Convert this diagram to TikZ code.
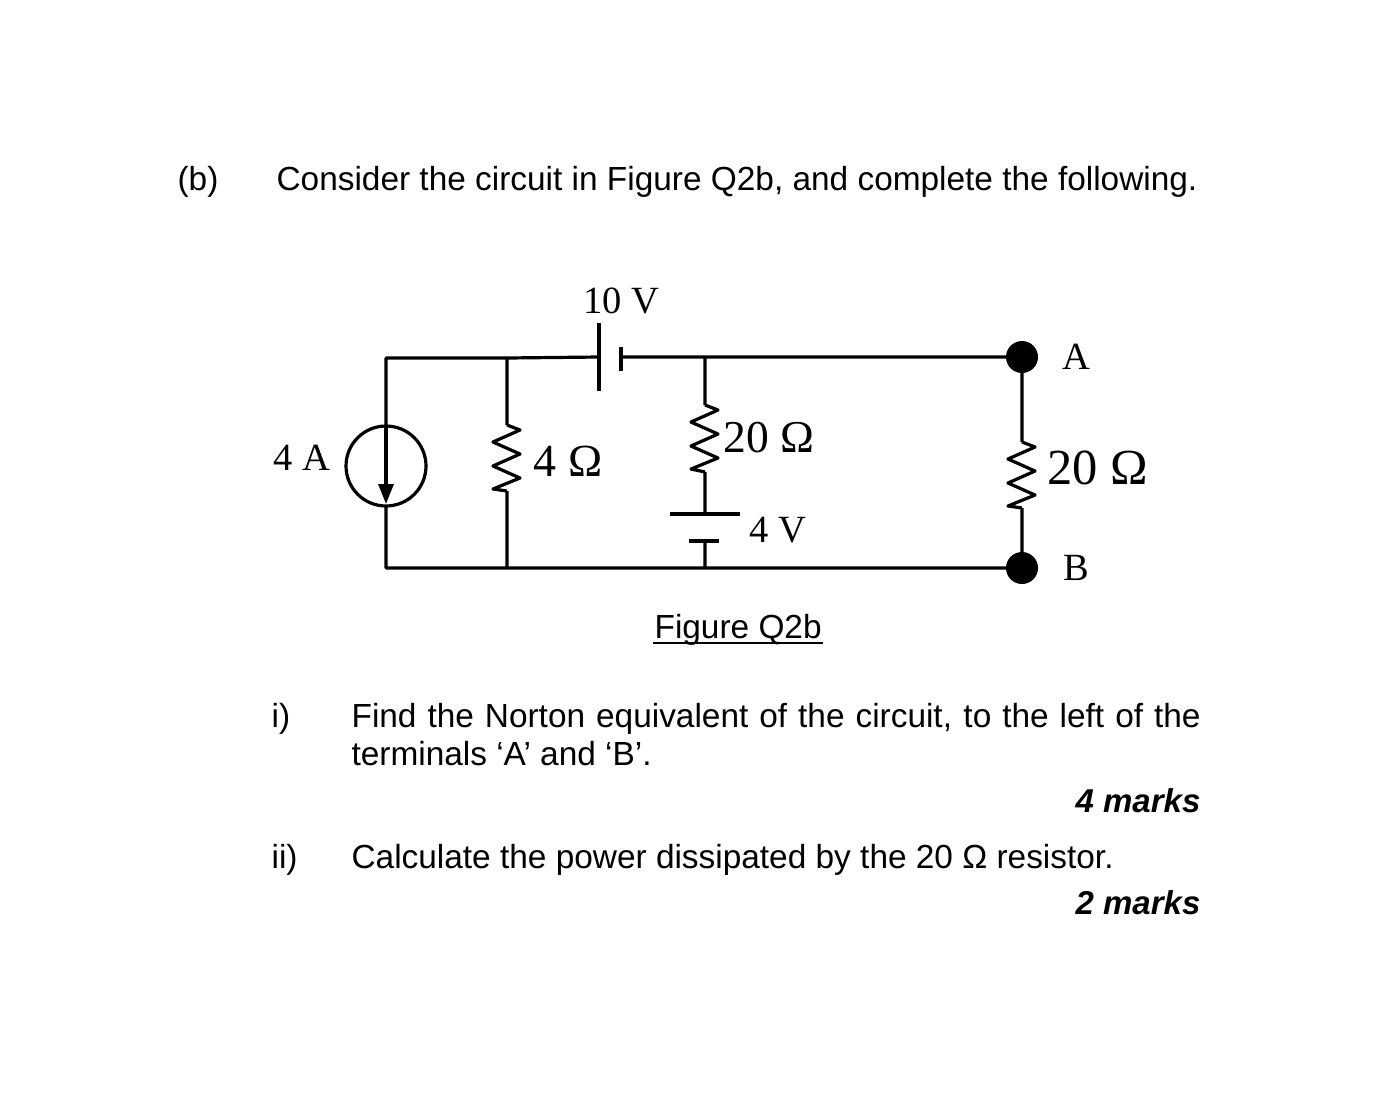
\documentclass[tikz,border=0pt]{standalone}
\usepackage{fontspec}
\setmainfont{Liberation Sans}
\newfontfamily\circuitfont{Liberation Serif}
\usetikzlibrary{arrows.meta}

\tikzset{
  body/.style={inner sep=0pt,anchor=base west,font=\fontsize{33.4}{38}\selectfont},
  marks/.style={inner sep=0pt,anchor=base east,font=\fontsize{33}{38}\selectfont\bfseries\itshape},
  lab/.style={inner sep=0pt,anchor=base west,font=\fontsize{38.5}{40}\selectfont\circuitfont},
  biglab/.style={inner sep=0pt,anchor=base west,font=\fontsize{#1}{40}\selectfont\circuitfont},
  terminal/.style={circle,fill=black,inner sep=0pt,outer sep=0pt,minimum size=32pt},
  isource/.style={circle,draw,inner sep=0pt,outer sep=0pt,minimum size=80pt},
  resistor/.style={to path={-- ++(13,5) -- ++(-27,12) -- ++(27,12) -- ++(-27,12)
                            -- ++(27,12) -- ++(-27,11) -- (\tikztotarget)}}
}

\begin{document}
\begin{tikzpicture}[x=1pt,y=-1pt,line width=3.2pt,line join=round,
                    >={Stealth[length=20pt,width=15pt,inset=0pt]}]
  \useasboundingbox (0,0) rectangle (1374,1104);

  % heading
  \node[body] (part)    at (176,190) {(b)};
  \node[body] (intro)   at (275,190) {Consider the circuit in Figure Q2b, and complete the following.};

  % junctions
  \coordinate (TL)   at (386,358);
  \coordinate (BL)   at (386,568);
  \coordinate (T4)   at (507,358);
  \coordinate (B4)   at (507,568);
  \coordinate (T20)  at (705,357);
  \coordinate (B20)  at (705,568);
  \node[terminal] (A)  at (1022,357) {};
  \node[terminal] (B)  at (1022,568) {};
  \node[isource]  (Is) at (386,466) {};

  % resistor ends
  \coordinate (R4a)  at (507,425);
  \coordinate (R4b)  at (507,491);
  \coordinate (R20a) at (705,405);
  \coordinate (R20b) at (705,472);
  \coordinate (RLa)  at (1022,442);
  \coordinate (RLb)  at (1022,508);

  % battery plates
  \coordinate (V10l)  at (599,357);
  \coordinate (V10r)  at (621,357);
  \coordinate (V10lt) at (599,323);
  \coordinate (V10lb) at (599,391);
  \coordinate (V10rt) at (621,347);
  \coordinate (V10rb) at (621,371);
  \coordinate (V4t)   at (705,514);
  \coordinate (V4b)   at (705,541);
  \coordinate (V4tl)  at (670,514);
  \coordinate (V4tr)  at (740,514);
  \coordinate (V4bl)  at (689,541);
  \coordinate (V4br)  at (719,541);

  % wires
  \path[draw] (Is.north) -- (TL) -- (T4) -- (V10l)
              (V10r) -- (T20) -- (A)
              (Is.south) -- (BL) -- (B4) -- (B20) -- (B)
              (T4) -- (R4a) (R4b) -- (B4)
              (T20) -- (R20a) (R20b) -- (V4t) (V4b) -- (B20)
              (A) -- (RLa) (RLb) -- (B);
  \path[draw] (R4a) to[resistor] (R4b)
              (R20a) to[resistor] (R20b)
              (RLa) to[resistor] (RLb);
  \path[draw] (V10lt) -- (V10lb) (V10rt) -- (V10rb)
              (V4tl) -- (V4tr) (V4bl) -- (V4br);
  \draw[->,shorten >=2pt] (Is.north) -- (Is.south);

  % circuit labels
  \node[lab] (l10v) at (582,313) {10 V};
  \node[lab] (l4a)  at (272,470) {4 A};
  \node[biglab=46] (l4r)  at (532,476) {4 Ω};
  \node[biglab=45.6] (l20r) at (722,452) {20 Ω};
  \node[biglab=50.5] (lRL)  at (1046,484) {20 Ω};
  \node[lab] (l4v)  at (748,542) {4 V};
  \node[lab] (lA)   at (1061,369) {A};
  \node[lab] (lB)   at (1062,580) {B};

  % caption
  \node[body] (fig) at (653,638) {Figure Q2b};
  \draw[line width=2.4pt] (fig.base west)+(0,5) -- ([yshift=-5pt]fig.base east);

  % questions
  \node[body] (qi)  at (270,727) {i)};
  \node[body,text width=849pt,align=justify] (qitext) at (350,727)
    {Find the Norton equivalent of the circuit, to the left of the terminals ‘A’ and ‘B’.};
  \node[marks] (mi) at (1202,812) {4 marks};
  \node[body] (qii) at (270,868) {ii)};
  \node[body] (qiitext) at (350,868) {Calculate the power dissipated by the 20 Ω resistor.};
  \node[marks] (mii) at (1202,914) {2 marks};
\end{tikzpicture}
\end{document}
